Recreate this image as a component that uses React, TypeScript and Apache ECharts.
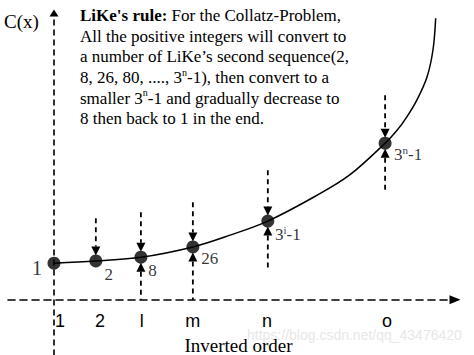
import React, { useEffect, useRef } from 'react';
import * as echarts from 'echarts';

// key points on the curve (x = inverted order position, y = C(x) in arbitrary units)
const pointNames = ['1', '2', 'l', 'm', 'n', 'o'];
const pointX = [0, 0.91, 1.89, 3.02, 4.65, 7.2];
const pointY = [9.9, 10.5, 11.5, 14.3, 21.3, 42.4];
const pointLabels = ['1', '2', '8', '26', '3{s|i}-1', '3{s|n}-1'];
// dashed guide lines through the points (null = none)
const guideTop: (number | null)[] = [null, 22.1, 23.7, 26.4, 35.1, 55.4];
const guideBottom: (number | null)[] = [null, null, 0, 0, 8.6, 29.2];
// the curve C(x)
const curveX = [0, 0.91, 1.89, 3.02, 3.83, 4.65, 5.72, 6.43, 7.2, 7.46, 7.67, 7.89, 8.11, 8.24, 8.3];
const curveY = [9.9, 10.5, 11.5, 14.3, 17.5, 21.3, 28.3, 33.8, 42.4, 45.9, 49.5, 54.1, 60.3, 67.6, 76.3];
// x-axis tick labels
const tickPositions = [0.13, 1.0, 1.91, 3.02, 4.63, 7.24];
const tickLabels = ['1', '2', 'l', 'm', 'n', 'o'];

const SERIF = '"Liberation Serif", "Times New Roman", serif';
const SANS = '"Liberation Sans", Arial, sans-serif';

const labelOffsets: Record<number, any> = {
  0: { position: 'inside', offset: [-17, 5], fontSize: 21 },
  1: { position: 'inside', offset: [13, 14] },
  2: { position: 'inside', offset: [11.5, 13.5] },
  3: { position: 'inside', offset: [17, 11.5] },
  4: { position: 'inside', offset: [20, 13] },
  5: { position: 'inside', offset: [23, 11] },
};

export default function App() {
  const ref = useRef<HTMLDivElement>(null);
  useEffect(() => {
    if (!ref.current) return;
    const chart = echarts.init(ref.current, null, { renderer: 'svg' });
    const guideIdx = pointX.map((_, i) => i).filter((i) => guideTop[i] !== null);
    const supStyle = { fontSize: 11, lineHeight: 11, verticalAlign: 'top', fontFamily: SERIF, color: '#000' };
    chart.setOption({
      animation: false,
      backgroundColor: '#fff',
      grid: { left: 8, right: 19, top: 13, bottom: 0, containLabel: false, outerBoundsMode: 'none' },
      xAxis: {
        type: 'value',
        min: -1,
        max: 8.72,
        axisLine: {
          onZero: true,
          symbol: ['none', 'triangle'],
          symbolSize: [9, 11],
          lineStyle: { color: '#000', width: 1.6, type: [7, 5] },
        },
        axisTick: { show: false },
        splitLine: { show: false },
        axisLabel: {
          customValues: tickPositions,
          formatter: (v: number) => {
            const i = tickPositions.findIndex((p) => Math.abs(p - v) < 1e-6);
            return i >= 0 ? tickLabels[i] : '';
          },
          inside: true,
          margin: 25,
          fontSize: 18,
          fontFamily: SANS,
          color: '#000',
        },
        name: 'Inverted order',
        nameLocation: 'middle',
        nameGap: -19,
        nameTextStyle: { fontFamily: SERIF, fontSize: 19, color: '#000', padding: [0, 0, 0, 14] },
      },
      yAxis: {
        type: 'value',
        min: -15,
        max: 77.7,
        axisLine: {
          onZero: true,
          symbol: ['none', 'triangle'],
          symbolSize: [9, 7],
          lineStyle: { color: '#000', width: 1.6, type: [5, 5] },
        },
        axisTick: { show: false },
        axisLabel: { show: false },
        splitLine: { show: false },
      },
      graphic: [
        {
          type: 'text',
          left: 4,
          top: 12,
          style: { text: 'C(x)', font: `19px ${SERIF}`, fill: '#000' },
        },
        {
          type: 'text',
          x: 80,
          y: 5,
          style: {
            text:
              "{b|LiKe's rule:} For the Collatz-Problem,\n" +
              'All the positive integers will convert to\n' +
              'a number of LiKe\u2019s second sequence(2,\n' +
              '8, 26, 80, ...., 3{s|n}-1), then convert to a\n' +
              'smaller 3{s|n}-1 and gradually decrease to\n' +
              '8 then back to 1 in the end.',
            fontFamily: SERIF,
            fontSize: 17,
            lineHeight: 20.7,
            fill: '#000',
            rich: {
              b: { fontWeight: 'bold', fontFamily: SERIF, fontSize: 17, lineHeight: 20.7, fill: '#000' },
              s: { fontSize: 10, lineHeight: 11, verticalAlign: 'top', fontFamily: SERIF, fill: '#000' },
            },
          },
        },
        {
          type: 'text',
          x: 247,
          y: 328,
          z: -1,
          style: { text: 'https://blog.csdn.net/qq_43476420', font: `14px ${SANS}`, fill: '#e8e8e8' },
        },
      ],
      series: [
        {
          type: 'line',
          name: 'C(x)',
          data: curveX.map((x, i) => [x, curveY[i]]),
          smooth: 0.35,
          showSymbol: false,
          lineStyle: { color: '#000', width: 1.5 },
          z: 2,
        },
        {
          type: 'custom',
          name: 'guides',
          data: guideIdx.map((i) => [pointX[i], pointY[i], guideTop[i]]),
          renderItem: (params: any, api: any) => {
            const k = guideIdx[params.dataIndex];
            const p = api.coord([api.value(0), api.value(1)]);
            const t = api.coord([api.value(0), api.value(2)]);
            const r = 6.5;
            const ah = 8;
            const aw = 9;
            const dash = { stroke: '#000', lineWidth: 1.8, lineDash: [5, 4] };
            const children: any[] = [
              { type: 'line', shape: { x1: p[0], y1: t[1], x2: p[0], y2: p[1] - r - ah }, style: dash },
              {
                type: 'polygon',
                shape: { points: [[p[0] - aw / 2, p[1] - r - ah], [p[0] + aw / 2, p[1] - r - ah], [p[0], p[1] - r + 1]] },
                style: { fill: '#000' },
              },
            ];
            const b = guideBottom[k];
            if (b !== null) {
              const bp = api.coord([api.value(0), b]);
              children.push(
                {
                  type: 'polygon',
                  shape: { points: [[p[0] - aw / 2, p[1] + r + ah], [p[0] + aw / 2, p[1] + r + ah], [p[0], p[1] + r - 1]] },
                  style: { fill: '#000' },
                },
                { type: 'line', shape: { x1: p[0], y1: p[1] + r + ah, x2: p[0], y2: bp[1] }, style: dash }
              );
            }
            return { type: 'group', children };
          },
          z: 3,
        },
        {
          type: 'scatter',
          name: 'points',
          symbolSize: 13,
          itemStyle: { color: '#000' },
          data: pointX.map((x, i) => ({
            name: pointNames[i],
            value: [x, pointY[i]],
            label: {
              show: true,
              formatter: pointLabels[i],
              fontFamily: SERIF,
              fontSize: 17,
              lineHeight: 20,
              color: '#000',
              rich: { s: supStyle },
              ...labelOffsets[i],
            },
          })),
          z: 4,
        },
      ],
    });
    return () => chart.dispose();
  }, []);
  return <div ref={ref} style={{ position: 'fixed', left: 0, top: 0, width: 474, height: 355, background: '#fff' }} />;
}
